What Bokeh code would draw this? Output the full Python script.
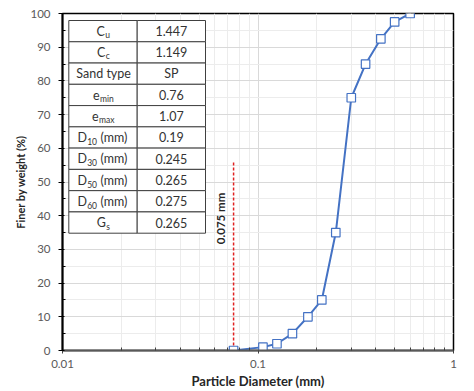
import math
from bokeh.plotting import figure
from bokeh.models import ColumnDataSource, Range1d, FixedTicker
from bokeh.core.properties import value
from bokeh.embed import file_html
from bokeh.resources import INLINE

# ---- data ----
diameter_mm = [0.075, 0.106, 0.125, 0.15, 0.18, 0.212, 0.25, 0.3, 0.355, 0.425, 0.5, 0.6]
finer_pct = [0, 1, 2, 5, 10, 15, 35, 75, 85, 92.5, 97.5, 100]

sieve_line_mm = 0.075
sieve_line_top = 56
sieve_label = "0.075 mm"

param_main = ["C", "C", "Sand type", "e", "e", "D", "D", "D", "D", "G"]
param_sub = ["u", "c", "", "min", "max", "10", "30", "50", "60", "s"]
param_suffix = ["", "", "", "", "", "(mm)", "(mm)", "(mm)", "(mm)", ""]
param_value = ["1.447", "1.149", "SP", "0.76", "1.07", "0.19", "0.245", "0.265", "0.275", "0.265"]

y_ticks = [0, 10, 20, 30, 40, 50, 60, 70, 80, 90, 100]
x_ticks = [0.01, 0.1, 1]

# ---- geometry (frame in page pixels) ----
W, H = 474, 391
FL, FR, FT, FB = 62, 453, 13, 350
X0, X1 = 0.01, 1.0
Y0, Y1 = 0, 100

def xd(px):
    return 10 ** (math.log10(X0) + (px - FL) / (FR - FL) * (math.log10(X1) - math.log10(X0)))

def yd(py):
    return Y0 + (FB - py) / (FB - FT) * (Y1 - Y0)

p = figure(width=W, height=H, x_axis_type="log", output_backend="svg", toolbar_location=None,
           x_range=Range1d(X0, X1), y_range=Range1d(Y0, Y1),
           min_border_left=FL, min_border_right=W - FR, min_border_top=FT, min_border_bottom=H - FB)
p.background_fill_color = "white"
p.border_fill_color = "white"
p.outline_line_color = "black"
p.outline_line_width = 1.5

# grids
p.xgrid.grid_line_color = "#d9d9d9"
p.xgrid.minor_grid_line_color = "#ececec"
p.ygrid.grid_line_color = "#d9d9d9"
p.ygrid.minor_grid_line_color = "#ececec"
p.yaxis.ticker = FixedTicker(ticks=y_ticks, minor_ticks=[v + 5 for v in y_ticks[:-1]])
p.xaxis.ticker = FixedTicker(ticks=x_ticks, minor_ticks=[m * d for d in (0.01, 0.1) for m in range(2, 10)])

# axes styling
p.xaxis.axis_label = "Particle Diameter (mm)"
p.yaxis.axis_label = "Finer by weight (%)"
for ax in (p.xaxis, p.yaxis):
    ax.axis_label_text_font = "Lato"
    ax.axis_label_text_font_style = "bold"
    ax.axis_label_text_color = "#262626"
    ax.major_label_text_font = "Lato"
    ax.major_label_text_font_size = "11.5px"
    ax.major_label_text_color = "#595959"
p.xaxis.axis_label_text_font_size = "13px"
p.yaxis.axis_label_text_font_size = "11px"
p.xaxis.axis_line_color = "#595959"
p.xaxis.axis_line_width = 2
p.yaxis.axis_line_color = "black"
p.yaxis.axis_line_width = 2
p.xaxis.major_tick_line_color = "#404040"
p.xaxis.minor_tick_line_color = "#404040"
p.yaxis.major_tick_line_color = "black"
p.yaxis.minor_tick_line_color = "black"
p.xaxis.major_tick_out = 3
p.xaxis.major_tick_in = 0
p.xaxis.minor_tick_out = 0
p.xaxis.minor_tick_in = 3
p.yaxis.major_tick_out = 4
p.yaxis.major_tick_in = 2
p.yaxis.minor_tick_out = 0
p.yaxis.minor_tick_in = 3
p.xaxis.major_label_standoff = 6
p.xaxis.axis_label_standoff = 2
p.yaxis.major_label_standoff = 8
p.yaxis.axis_label_standoff = 0
p.xaxis.major_label_overrides = {0.01: "0.01", 0.1: "0.1", 1: "1"}

# ---- table ----
n = len(param_main)
t_left, t_mid, t_right = 68.3, 136.7, 205.0
t_top, row_h = 20.0, 21.27
rows_top = [yd(t_top + i * row_h) for i in range(n)]
rows_bot = [yd(t_top + (i + 1) * row_h) for i in range(n)]
rows_mid = [yd(t_top + (i + 0.5) * row_h) for i in range(n)]
p.quad(left=[xd(t_left)] * n, right=[xd(t_mid)] * n, top=rows_top, bottom=rows_bot,
       fill_color="white", line_color="#404040", line_width=1)
p.quad(left=[xd(t_mid)] * n, right=[xd(t_right)] * n, top=rows_top, bottom=rows_bot,
       fill_color="white", line_color="#404040", line_width=1)

CW = {'C': 0.66, 'D': 0.73, 'G': 0.71, 'S': 0.53, 'e': 0.52, 'u': 0.55, 'c': 0.46, 'm': 0.82,
      'i': 0.24, 'n': 0.55, 'a': 0.49, 'x': 0.49, 's': 0.41, 'd': 0.57, 't': 0.36, 'y': 0.5,
      'p': 0.56, ' ': 0.19, '(': 0.3, ')': 0.3}

def tw(s, size):
    return sum(CW.get(ch, 0.58) for ch in s) * size

MAIN, SUB = 12.5, 8.5
GAP = 4
c1 = math.sqrt(xd(t_left) * xd(t_mid))
c2 = math.sqrt(xd(t_mid) * xd(t_right))
off_main, off_sub, off_suf = [], [], []
for m, s, f in zip(param_main, param_sub, param_suffix):
    gap = GAP if f else 0
    total = tw(m, MAIN) + tw(s, SUB) + gap + tw(f, MAIN)
    start = -total / 2
    off_main.append(start)
    off_sub.append(start + tw(m, MAIN) + 0.5)
    off_suf.append(start + tw(m, MAIN) + tw(s, SUB) + gap)

src = ColumnDataSource(dict(x=[c1] * n, y=rows_mid, main=param_main, sub=param_sub, suf=param_suffix,
                            om=off_main, osb=off_sub, osf=off_suf))
p.text(x="x", y="y", text="main", x_offset="om", source=src, text_align="left", text_baseline="middle",
       text_font=value("Lato"), text_font_size="12.5px", text_color="#333333")
p.text(x="x", y="y", text="sub", x_offset="osb", y_offset=4, source=src, text_align="left",
       text_baseline="middle", text_font=value("Lato"), text_font_size="8.5px", text_color="#333333")
p.text(x="x", y="y", text="suf", x_offset="osf", source=src, text_align="left", text_baseline="middle",
       text_font=value("Lato"), text_font_size="12.5px", text_color="#333333")
p.text(x=[c2] * n, y=rows_mid, text=param_value, text_align="center", text_baseline="middle",
       text_font=value("Lato"), text_font_size="12.5px", text_color="#333333")

# ---- sieve line ----
p.line(x=[sieve_line_mm, sieve_line_mm], y=[0, sieve_line_top], line_color="#e02020",
       line_width=1.5, line_dash="3 2")
p.text(x=[sieve_line_mm], y=[sieve_line_top * 0.7], text=[sieve_label], angle=math.pi / 2,
       x_offset=-13, text_align="center", text_baseline="middle", text_font=value("Lato"),
       text_font_style="bold", text_font_size="11.5px", text_color="#262626")

# ---- curve ----
p.line(diameter_mm, finer_pct, line_color="#4472C4", line_width=2)
p.scatter(diameter_mm, finer_pct, marker="square", size=8.5, fill_color="white",
          line_color="#4472C4", line_width=1.2)

open("out.html", "w").write(file_html(p, INLINE))
